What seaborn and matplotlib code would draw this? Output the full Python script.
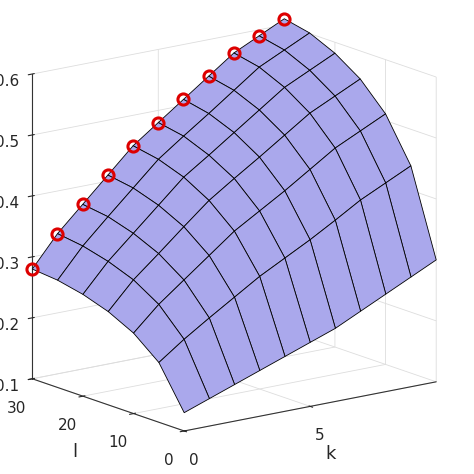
import numpy as np
import matplotlib
matplotlib.use("Agg")
import matplotlib.pyplot as plt
import seaborn as sns

sns.set_style("white")
plt.rcParams['font.family'] = ['DejaVu Sans']

k_vals = [0, 1, 2, 3, 4, 5, 6, 7, 8, 9, 10]
l_vals = [0, 5, 10, 15, 20, 25, 30]
z_l0  = [0.130, 0.145, 0.160, 0.175, 0.190, 0.205, 0.220, 0.240, 0.260, 0.280, 0.300]
z_l5  = [0.198, 0.228, 0.255, 0.281, 0.307, 0.329, 0.351, 0.375, 0.400, 0.420, 0.440]
z_l10 = [0.232, 0.271, 0.303, 0.335, 0.367, 0.392, 0.417, 0.444, 0.471, 0.491, 0.511]
z_l15 = [0.253, 0.297, 0.332, 0.368, 0.403, 0.431, 0.458, 0.486, 0.514, 0.534, 0.554]
z_l20 = [0.267, 0.313, 0.351, 0.389, 0.427, 0.455, 0.484, 0.513, 0.542, 0.562, 0.582]
z_l25 = [0.276, 0.324, 0.364, 0.403, 0.442, 0.472, 0.501, 0.531, 0.561, 0.581, 0.601]
z_l30 = [0.280, 0.330, 0.370, 0.410, 0.450, 0.480, 0.510, 0.540, 0.570, 0.590, 0.610]

Z = np.array([z_l0, z_l5, z_l10, z_l15, z_l20, z_l25, z_l30])
K, L = np.meshgrid(k_vals, l_vals)

fig = plt.figure(figsize=(4.74, 4.74), dpi=100)
ax = fig.add_axes([-0.17, -0.02, 1.3, 1.05], projection='3d')
ax.set_proj_type('ortho')
ax.set_box_aspect((1, 0.8, 1.0), zoom=1.0)
ax.plot_surface(K, L, Z, color='#aaa8ec', edgecolor='black', linewidth=0.6, shade=False, antialiased=True)
ax.plot(k_vals, [30]*len(k_vals), z_l30, 'o', mfc='none', mec='#dd0000', mew=2.2, ms=8, zorder=10)

ax.set_xlim(0, 10); ax.set_ylim(0, 30); ax.set_zlim(0.1, 0.6)
ax.set_xticks([0, 5]); ax.set_yticks([0, 10, 20, 30])
ax.set_zticks([0.1, 0.2, 0.3, 0.4, 0.5, 0.6])
ax.set_zticklabels(['0.1', '0.2', '0.3', '0.4', '0.5', '0.6'])
ax.set_xlabel('k', fontsize=13); ax.set_ylabel('l', fontsize=13)
ax.view_init(elev=15, azim=-127)
for a in (ax.xaxis, ax.yaxis, ax.zaxis):
    a.set_pane_color((1, 1, 1, 1))
    a._axinfo['grid'].update(color='#dddddd', linewidth=0.6)
    a.line.set_color('#333333')
ax.tick_params(labelsize=11)
fig.savefig('out.png', dpi=100)
